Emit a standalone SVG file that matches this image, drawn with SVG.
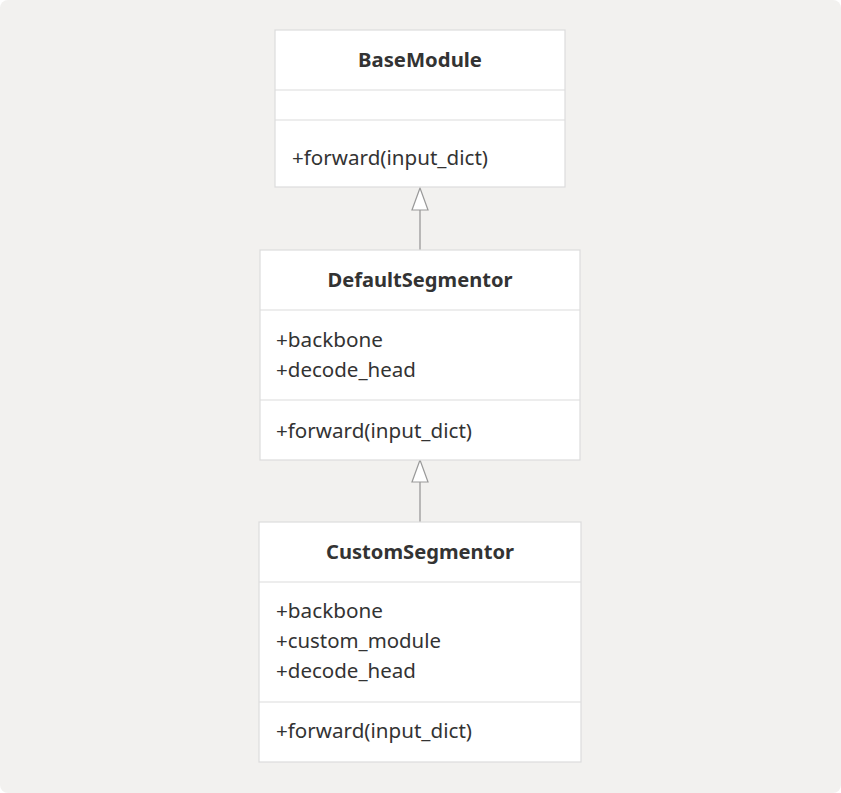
<svg xmlns="http://www.w3.org/2000/svg" width="841" height="793" viewBox="0 0 841 793">
<style>
.box{fill:#ffffff;stroke:#dcdcdc;stroke-width:1.2}
.div{stroke:#dcdcdc;stroke-width:1.2}
.t{font-family:"Noto Sans","Open Sans",sans-serif;font-size:20px;font-weight:bold;fill:#333333;text-anchor:middle;dominant-baseline:central}
.m{font-family:"Noto Sans","Open Sans",sans-serif;font-size:19.5px;fill:#333333;dominant-baseline:central}
.edge{stroke:#999999;stroke-width:1.3;fill:none}
.head{fill:#ffffff;stroke:#999999;stroke-width:1.2}
</style>
<rect x="0" y="0" width="841" height="793" rx="8" fill="#f2f1ef"/>
<g id="connectors">
<line class="edge" x1="420" y1="210" x2="420" y2="250"/>
<polygon class="head" points="420,188 412,210 428,210"/>
<line class="edge" x1="420" y1="482" x2="420" y2="522"/>
<polygon class="head" points="420,460 412,482 428,482"/>
</g>
<g id="BaseModule">
<rect class="box" x="275" y="30" width="290" height="157"/>
<line class="div" x1="275" y1="90" x2="565" y2="90"/>
<line class="div" x1="275" y1="120" x2="565" y2="120"/>
<text class="t" x="420" y="59" textLength="124" lengthAdjust="spacingAndGlyphs">BaseModule</text>
<text class="m" x="292" y="157" textLength="196" lengthAdjust="spacingAndGlyphs">+forward(input_dict)</text>
</g>
<g id="DefaultSegmentor">
<rect class="box" x="260" y="250" width="320" height="210"/>
<line class="div" x1="260" y1="310" x2="580" y2="310"/>
<line class="div" x1="260" y1="400" x2="580" y2="400"/>
<text class="t" x="420" y="279" textLength="185" lengthAdjust="spacingAndGlyphs">DefaultSegmentor</text>
<text class="m" x="276" y="339" textLength="107" lengthAdjust="spacingAndGlyphs">+backbone</text>
<text class="m" x="276" y="369" textLength="140" lengthAdjust="spacingAndGlyphs">+decode_head</text>
<text class="m" x="276" y="430" textLength="196" lengthAdjust="spacingAndGlyphs">+forward(input_dict)</text>
</g>
<g id="CustomSegmentor">
<rect class="box" x="259" y="522" width="322" height="240"/>
<line class="div" x1="259" y1="582" x2="581" y2="582"/>
<line class="div" x1="259" y1="702" x2="581" y2="702"/>
<text class="t" x="420" y="551" textLength="188" lengthAdjust="spacingAndGlyphs">CustomSegmentor</text>
<text class="m" x="276" y="610" textLength="107" lengthAdjust="spacingAndGlyphs">+backbone</text>
<text class="m" x="276" y="640" textLength="165" lengthAdjust="spacingAndGlyphs">+custom_module</text>
<text class="m" x="276" y="670" textLength="140" lengthAdjust="spacingAndGlyphs">+decode_head</text>
<text class="m" x="276" y="730" textLength="196" lengthAdjust="spacingAndGlyphs">+forward(input_dict)</text>
</g>
</svg>
